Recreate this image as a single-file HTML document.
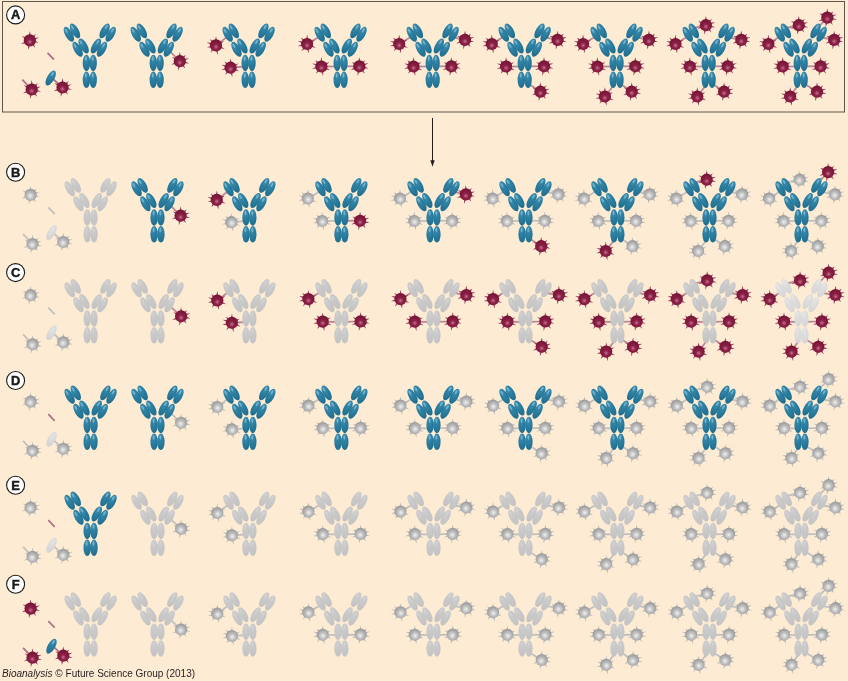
<!DOCTYPE html>
<html lang="en"><head><meta charset="utf-8"><title>Bioanalysis figure</title>
<style>html,body{margin:0;padding:0;background:#fdecd3;}body{width:848px;height:681px;overflow:hidden;font-family:"Liberation Sans",Arial,sans-serif;}svg{display:block}</style>
</head><body>
<svg width="848" height="681" viewBox="0 0 848 681">
<defs>
<radialGradient id="gb" cx="0.42" cy="0.22" r="0.75" fx="0.42" fy="0.2"><stop offset="0" stop-color="#3f8fb1"/><stop offset="0.5" stop-color="#2c7fa1"/><stop offset="1" stop-color="#1f6e8f"/></radialGradient>
<radialGradient id="gg" cx="0.42" cy="0.22" r="0.75"><stop offset="0" stop-color="#d0d0d0"/><stop offset="0.4" stop-color="#c9c9c9"/><stop offset="1" stop-color="#c3c3c3"/></radialGradient>
<radialGradient id="gl" cx="0.42" cy="0.3" r="0.75"><stop offset="0" stop-color="#e4e4e4"/><stop offset="1" stop-color="#d0d0d0"/></radialGradient>
<radialGradient id="rr" cx="0.5" cy="0.62" r="0.6"><stop offset="0" stop-color="#c0738c"/><stop offset="0.36" stop-color="#8c2046"/><stop offset="1" stop-color="#751433"/></radialGradient>
<radialGradient id="rg" cx="0.47" cy="0.58" r="0.62"><stop offset="0" stop-color="#f0f0f0"/><stop offset="0.45" stop-color="#bcbcbc"/><stop offset="1" stop-color="#929292"/></radialGradient>
<g id="eb"><ellipse rx="3.7" ry="8.3" fill="url(#gb)"/><ellipse cx="-0.5" cy="-4.4" rx="1.0" ry="2.4" fill="#9fd0e6" opacity="0.55"/></g>
<g id="eg"><ellipse rx="3.7" ry="8.3" fill="url(#gg)"/><ellipse cx="-0.5" cy="-4.6" rx="0.9" ry="2.0" fill="#e0e0e0" opacity="0.25"/></g>
<ellipse id="el" rx="3.7" ry="8.3" fill="url(#gl)"/>
<g id="AB"><use href="#eb" transform="translate(-20.93,34.3) rotate(-30)"/><use href="#eb" transform="translate(-14.83,30.9) rotate(-30)"/><use href="#eb" transform="translate(-12.13,49.3) rotate(-30)"/><use href="#eb" transform="translate(-6.17,46.0) rotate(-30)"/><use href="#eb" transform="translate(20.93,34.3) rotate(30)"/><use href="#eb" transform="translate(14.83,30.9) rotate(30)"/><use href="#eb" transform="translate(12.13,49.3) rotate(30)"/><use href="#eb" transform="translate(6.17,46.0) rotate(30)"/><use href="#eb" transform="translate(-3.4,63.0) rotate(0)"/><use href="#eb" transform="translate(3.4,63.0) rotate(0)"/><use href="#eb" transform="translate(-3.4,79.8) rotate(0)"/><use href="#eb" transform="translate(3.4,79.8) rotate(0)"/></g>
<g id="AG"><use href="#eg" transform="translate(-20.93,34.3) rotate(-30)"/><use href="#eg" transform="translate(-14.83,30.9) rotate(-30)"/><use href="#eg" transform="translate(-12.13,49.3) rotate(-30)"/><use href="#eg" transform="translate(-6.17,46.0) rotate(-30)"/><use href="#eg" transform="translate(20.93,34.3) rotate(30)"/><use href="#eg" transform="translate(14.83,30.9) rotate(30)"/><use href="#eg" transform="translate(12.13,49.3) rotate(30)"/><use href="#eg" transform="translate(6.17,46.0) rotate(30)"/><use href="#eg" transform="translate(-3.4,63.0) rotate(0)"/><use href="#eg" transform="translate(3.4,63.0) rotate(0)"/><use href="#eg" transform="translate(-3.4,79.8) rotate(0)"/><use href="#eg" transform="translate(3.4,79.8) rotate(0)"/></g>
<radialGradient id="gk" cx="0.42" cy="0.22" r="0.75"><stop offset="0" stop-color="#e6e6e6"/><stop offset="0.4" stop-color="#dddddd"/><stop offset="1" stop-color="#d6d6d6"/></radialGradient>
<g id="ek"><ellipse rx="3.7" ry="8.3" fill="url(#gk)"/></g>
<g id="AK"><use href="#ek" transform="translate(-20.93,34.3) rotate(-30)"/><use href="#ek" transform="translate(-14.83,30.9) rotate(-30)"/><use href="#ek" transform="translate(-12.13,49.3) rotate(-30)"/><use href="#ek" transform="translate(-6.17,46.0) rotate(-30)"/><use href="#ek" transform="translate(20.93,34.3) rotate(30)"/><use href="#ek" transform="translate(14.83,30.9) rotate(30)"/><use href="#ek" transform="translate(12.13,49.3) rotate(30)"/><use href="#ek" transform="translate(6.17,46.0) rotate(30)"/><use href="#ek" transform="translate(-3.4,63.0) rotate(0)"/><use href="#ek" transform="translate(3.4,63.0) rotate(0)"/><use href="#ek" transform="translate(-3.4,79.8) rotate(0)"/><use href="#ek" transform="translate(3.4,79.8) rotate(0)"/></g>
<g id="DR"><path d="M0.95,-5.20L0.12,-8.90L-0.12,-8.90L-0.95,-5.20ZM4.30,-3.08L5.92,-5.96L5.75,-6.13L2.93,-4.40ZM5.24,-0.70L8.88,-2.76L8.81,-2.99L4.65,-2.51ZM4.85,2.10L9.03,2.21L9.09,1.98L5.28,0.24ZM2.37,4.72L5.20,7.10L5.39,6.96L3.89,3.58ZM-1.84,4.96L-1.72,9.04L-1.48,9.08L0.03,5.29ZM-5.16,1.16L-8.42,3.45L-8.33,3.67L-4.42,2.91ZM-4.15,-3.28L-7.54,-4.14L-7.65,-3.93L-5.04,-1.60Z" fill="#a03c60"/><circle r="6.1" fill="url(#rr)"/></g>
<g id="DG"><path d="M0.95,-5.20L0.12,-8.90L-0.12,-8.90L-0.95,-5.20ZM4.30,-3.08L5.92,-5.96L5.75,-6.13L2.93,-4.40ZM5.24,-0.70L8.88,-2.76L8.81,-2.99L4.65,-2.51ZM4.85,2.10L9.03,2.21L9.09,1.98L5.28,0.24ZM2.37,4.72L5.20,7.10L5.39,6.96L3.89,3.58ZM-1.84,4.96L-1.72,9.04L-1.48,9.08L0.03,5.29ZM-5.16,1.16L-8.42,3.45L-8.33,3.67L-4.42,2.91ZM-4.15,-3.28L-7.54,-4.14L-7.65,-3.93L-5.04,-1.60Z" fill="#bcbcbc"/><circle r="6.1" fill="url(#rg)"/></g>
</defs>
<rect width="848" height="681" fill="#fdecd3"/>
<rect x="2.5" y="1.5" width="842" height="110.5" fill="none" stroke="#5e564d" stroke-width="1"/>
<line x1="432.5" y1="118" x2="432.5" y2="161" stroke="#231f20" stroke-width="1"/>
<polygon points="430.3,160.2 434.7,160.2 432.5,166.7" fill="#231f20"/>
<line x1="47.50" y1="52.90" x2="53.90" y2="59.50" stroke="#ae7486" stroke-width="1.8"/>
<line x1="22.30" y1="79.60" x2="31.70" y2="89.50" stroke="#ae7486" stroke-width="1.8"/>
<line x1="52.50" y1="78.50" x2="62.50" y2="87.50" stroke="#ae7486" stroke-width="1.8"/>
<use href="#eb" transform="translate(50.70,78.00) rotate(30)"/>
<use href="#DR" x="29.80" y="40.40"/>
<use href="#DR" x="31.70" y="89.50"/>
<use href="#DR" x="62.50" y="87.50"/>
<use href="#AB" x="89.80" y="0.00"/>
<line x1="179.80" y1="61.20" x2="167.70" y2="49.20" stroke="#ba8a98" stroke-width="1.8"/>
<use href="#AB" x="156.70" y="0.00"/>
<use href="#DR" x="179.80" y="61.20"/>
<line x1="216.00" y1="45.40" x2="227.60" y2="36.50" stroke="#ba8a98" stroke-width="1.8"/>
<line x1="230.60" y1="67.70" x2="245.20" y2="66.50" stroke="#ba8a98" stroke-width="1.8"/>
<use href="#AB" x="248.60" y="0.00"/>
<use href="#DR" transform="translate(216.00,45.40) scale(-1,1)"/>
<use href="#DR" transform="translate(230.60,67.70) scale(-1,1)"/>
<line x1="307.10" y1="44.00" x2="319.60" y2="36.50" stroke="#ba8a98" stroke-width="1.8"/>
<line x1="321.40" y1="66.50" x2="337.20" y2="66.50" stroke="#ba8a98" stroke-width="1.8"/>
<line x1="359.30" y1="66.30" x2="344.00" y2="66.30" stroke="#ba8a98" stroke-width="1.8"/>
<use href="#AB" x="340.60" y="0.00"/>
<use href="#DR" transform="translate(307.10,44.00) scale(-1,1)"/>
<use href="#DR" transform="translate(321.40,66.50) scale(-1,1)"/>
<use href="#DR" x="359.30" y="66.30"/>
<line x1="399.20" y1="44.00" x2="411.70" y2="36.50" stroke="#ba8a98" stroke-width="1.8"/>
<line x1="413.50" y1="66.50" x2="429.30" y2="66.50" stroke="#ba8a98" stroke-width="1.8"/>
<line x1="451.40" y1="66.30" x2="436.10" y2="66.30" stroke="#ba8a98" stroke-width="1.8"/>
<line x1="465.00" y1="39.90" x2="453.70" y2="37.50" stroke="#ba8a98" stroke-width="1.8"/>
<use href="#AB" x="432.70" y="0.00"/>
<use href="#DR" transform="translate(399.20,44.00) scale(-1,1)"/>
<use href="#DR" transform="translate(413.50,66.50) scale(-1,1)"/>
<use href="#DR" x="451.40" y="66.30"/>
<use href="#DR" x="465.00" y="39.90"/>
<line x1="491.80" y1="44.00" x2="503.70" y2="36.50" stroke="#ba8a98" stroke-width="1.8"/>
<line x1="506.10" y1="66.50" x2="521.30" y2="66.50" stroke="#ba8a98" stroke-width="1.8"/>
<line x1="544.00" y1="66.30" x2="528.10" y2="66.30" stroke="#ba8a98" stroke-width="1.8"/>
<line x1="557.60" y1="39.90" x2="545.70" y2="37.50" stroke="#ba8a98" stroke-width="1.8"/>
<line x1="540.40" y1="91.70" x2="528.10" y2="83.50" stroke="#ba8a98" stroke-width="1.8"/>
<use href="#AB" x="524.70" y="0.00"/>
<use href="#DR" transform="translate(491.80,44.00) scale(-1,1)"/>
<use href="#DR" transform="translate(506.10,66.50) scale(-1,1)"/>
<use href="#DR" x="544.00" y="66.30"/>
<use href="#DR" x="557.60" y="39.90"/>
<use href="#DR" x="540.40" y="91.70"/>
<line x1="583.10" y1="44.00" x2="595.60" y2="36.50" stroke="#ba8a98" stroke-width="1.8"/>
<line x1="597.40" y1="66.50" x2="613.20" y2="66.50" stroke="#ba8a98" stroke-width="1.8"/>
<line x1="635.30" y1="66.30" x2="620.00" y2="66.30" stroke="#ba8a98" stroke-width="1.8"/>
<line x1="648.90" y1="39.90" x2="637.60" y2="37.50" stroke="#ba8a98" stroke-width="1.8"/>
<line x1="631.70" y1="91.70" x2="620.00" y2="83.50" stroke="#ba8a98" stroke-width="1.8"/>
<line x1="604.90" y1="96.50" x2="613.20" y2="86.00" stroke="#ba8a98" stroke-width="1.8"/>
<use href="#AB" x="616.60" y="0.00"/>
<use href="#DR" transform="translate(583.10,44.00) scale(-1,1)"/>
<use href="#DR" transform="translate(597.40,66.50) scale(-1,1)"/>
<use href="#DR" x="635.30" y="66.30"/>
<use href="#DR" x="648.90" y="39.90"/>
<use href="#DR" x="631.70" y="91.70"/>
<use href="#DR" transform="translate(604.90,96.50) scale(-1,1)"/>
<line x1="675.50" y1="44.00" x2="687.70" y2="36.50" stroke="#ba8a98" stroke-width="1.8"/>
<line x1="689.80" y1="66.50" x2="705.30" y2="66.50" stroke="#ba8a98" stroke-width="1.8"/>
<line x1="727.70" y1="66.30" x2="712.10" y2="66.30" stroke="#ba8a98" stroke-width="1.8"/>
<line x1="741.30" y1="39.90" x2="729.70" y2="37.50" stroke="#ba8a98" stroke-width="1.8"/>
<line x1="724.10" y1="91.70" x2="712.10" y2="83.50" stroke="#ba8a98" stroke-width="1.8"/>
<line x1="697.30" y1="96.50" x2="705.30" y2="86.00" stroke="#ba8a98" stroke-width="1.8"/>
<line x1="705.90" y1="25.20" x2="693.70" y2="28.00" stroke="#ba8a98" stroke-width="1.8"/>
<use href="#AB" x="708.70" y="0.00"/>
<use href="#DR" transform="translate(675.50,44.00) scale(-1,1)"/>
<use href="#DR" transform="translate(689.80,66.50) scale(-1,1)"/>
<use href="#DR" x="727.70" y="66.30"/>
<use href="#DR" x="741.30" y="39.90"/>
<use href="#DR" x="724.10" y="91.70"/>
<use href="#DR" transform="translate(697.30,96.50) scale(-1,1)"/>
<use href="#DR" x="705.90" y="25.20"/>
<line x1="768.40" y1="44.00" x2="779.70" y2="36.50" stroke="#ba8a98" stroke-width="1.8"/>
<line x1="782.70" y1="66.50" x2="797.30" y2="66.50" stroke="#ba8a98" stroke-width="1.8"/>
<line x1="820.60" y1="66.30" x2="804.10" y2="66.30" stroke="#ba8a98" stroke-width="1.8"/>
<line x1="834.20" y1="39.90" x2="821.70" y2="37.50" stroke="#ba8a98" stroke-width="1.8"/>
<line x1="817.00" y1="91.70" x2="804.10" y2="83.50" stroke="#ba8a98" stroke-width="1.8"/>
<line x1="790.20" y1="96.50" x2="797.30" y2="86.00" stroke="#ba8a98" stroke-width="1.8"/>
<line x1="798.80" y1="25.20" x2="785.70" y2="28.00" stroke="#ba8a98" stroke-width="1.8"/>
<line x1="827.30" y1="17.60" x2="816.70" y2="29.00" stroke="#ba8a98" stroke-width="1.8"/>
<use href="#AB" x="800.70" y="0.00"/>
<use href="#DR" transform="translate(768.40,44.00) scale(-1,1)"/>
<use href="#DR" transform="translate(782.70,66.50) scale(-1,1)"/>
<use href="#DR" x="820.60" y="66.30"/>
<use href="#DR" x="834.20" y="39.90"/>
<use href="#DR" x="817.00" y="91.70"/>
<use href="#DR" transform="translate(790.20,96.50) scale(-1,1)"/>
<use href="#DR" x="798.80" y="25.20"/>
<use href="#DR" x="827.30" y="17.60"/>
<circle cx="15.6" cy="14.9" r="9" fill="#fff" stroke="#1a1a1a" stroke-width="1.1"/>
<text x="15.6" y="19.1" text-anchor="middle" font-family="'Liberation Sans', Arial, sans-serif" font-weight="bold" font-size="12.9" fill="#1a1a1a" stroke="#1a1a1a" stroke-width="0.45">A</text>
<line x1="48.30" y1="207.40" x2="54.70" y2="214.00" stroke="#c0c0c0" stroke-width="1.8"/>
<line x1="23.10" y1="234.10" x2="32.50" y2="244.00" stroke="#c0c0c0" stroke-width="1.8"/>
<line x1="53.30" y1="233.00" x2="63.30" y2="242.00" stroke="#c0c0c0" stroke-width="1.8"/>
<use href="#el" transform="translate(51.50,232.50) rotate(30)"/>
<use href="#DG" x="30.60" y="194.90"/>
<use href="#DG" x="32.50" y="244.00"/>
<use href="#DG" x="63.30" y="242.00"/>
<use href="#AG" x="90.60" y="154.50"/>
<line x1="180.60" y1="215.70" x2="168.50" y2="203.70" stroke="#ba8a98" stroke-width="1.8"/>
<use href="#AB" x="157.50" y="154.50"/>
<use href="#DR" x="180.60" y="215.70"/>
<line x1="216.80" y1="199.90" x2="228.40" y2="191.00" stroke="#ba8a98" stroke-width="1.8"/>
<line x1="231.40" y1="222.20" x2="246.00" y2="221.00" stroke="#c0c0c0" stroke-width="1.8"/>
<use href="#AB" x="249.40" y="154.50"/>
<use href="#DR" transform="translate(216.80,199.90) scale(-1,1)"/>
<use href="#DG" transform="translate(231.40,222.20) scale(-1,1)"/>
<line x1="307.90" y1="198.50" x2="320.40" y2="191.00" stroke="#c0c0c0" stroke-width="1.8"/>
<line x1="322.20" y1="221.00" x2="338.00" y2="221.00" stroke="#c0c0c0" stroke-width="1.8"/>
<line x1="360.10" y1="220.80" x2="344.80" y2="220.80" stroke="#ba8a98" stroke-width="1.8"/>
<use href="#AB" x="341.40" y="154.50"/>
<use href="#DG" transform="translate(307.90,198.50) scale(-1,1)"/>
<use href="#DG" transform="translate(322.20,221.00) scale(-1,1)"/>
<use href="#DR" x="360.10" y="220.80"/>
<line x1="400.00" y1="198.50" x2="412.50" y2="191.00" stroke="#c0c0c0" stroke-width="1.8"/>
<line x1="414.30" y1="221.00" x2="430.10" y2="221.00" stroke="#c0c0c0" stroke-width="1.8"/>
<line x1="452.20" y1="220.80" x2="436.90" y2="220.80" stroke="#c0c0c0" stroke-width="1.8"/>
<line x1="465.80" y1="194.40" x2="454.50" y2="192.00" stroke="#ba8a98" stroke-width="1.8"/>
<use href="#AB" x="433.50" y="154.50"/>
<use href="#DG" transform="translate(400.00,198.50) scale(-1,1)"/>
<use href="#DG" transform="translate(414.30,221.00) scale(-1,1)"/>
<use href="#DG" x="452.20" y="220.80"/>
<use href="#DR" x="465.80" y="194.40"/>
<line x1="492.60" y1="198.50" x2="504.50" y2="191.00" stroke="#c0c0c0" stroke-width="1.8"/>
<line x1="506.90" y1="221.00" x2="522.10" y2="221.00" stroke="#c0c0c0" stroke-width="1.8"/>
<line x1="544.80" y1="220.80" x2="528.90" y2="220.80" stroke="#c0c0c0" stroke-width="1.8"/>
<line x1="558.40" y1="194.40" x2="546.50" y2="192.00" stroke="#c0c0c0" stroke-width="1.8"/>
<line x1="541.20" y1="246.20" x2="528.90" y2="238.00" stroke="#ba8a98" stroke-width="1.8"/>
<use href="#AB" x="525.50" y="154.50"/>
<use href="#DG" transform="translate(492.60,198.50) scale(-1,1)"/>
<use href="#DG" transform="translate(506.90,221.00) scale(-1,1)"/>
<use href="#DG" x="544.80" y="220.80"/>
<use href="#DG" x="558.40" y="194.40"/>
<use href="#DR" x="541.20" y="246.20"/>
<line x1="583.90" y1="198.50" x2="596.40" y2="191.00" stroke="#c0c0c0" stroke-width="1.8"/>
<line x1="598.20" y1="221.00" x2="614.00" y2="221.00" stroke="#c0c0c0" stroke-width="1.8"/>
<line x1="636.10" y1="220.80" x2="620.80" y2="220.80" stroke="#c0c0c0" stroke-width="1.8"/>
<line x1="649.70" y1="194.40" x2="638.40" y2="192.00" stroke="#c0c0c0" stroke-width="1.8"/>
<line x1="632.50" y1="246.20" x2="620.80" y2="238.00" stroke="#c0c0c0" stroke-width="1.8"/>
<line x1="605.70" y1="251.00" x2="614.00" y2="240.50" stroke="#ba8a98" stroke-width="1.8"/>
<use href="#AB" x="617.40" y="154.50"/>
<use href="#DG" transform="translate(583.90,198.50) scale(-1,1)"/>
<use href="#DG" transform="translate(598.20,221.00) scale(-1,1)"/>
<use href="#DG" x="636.10" y="220.80"/>
<use href="#DG" x="649.70" y="194.40"/>
<use href="#DG" x="632.50" y="246.20"/>
<use href="#DR" transform="translate(605.70,251.00) scale(-1,1)"/>
<line x1="676.30" y1="198.50" x2="688.50" y2="191.00" stroke="#c0c0c0" stroke-width="1.8"/>
<line x1="690.60" y1="221.00" x2="706.10" y2="221.00" stroke="#c0c0c0" stroke-width="1.8"/>
<line x1="728.50" y1="220.80" x2="712.90" y2="220.80" stroke="#c0c0c0" stroke-width="1.8"/>
<line x1="742.10" y1="194.40" x2="730.50" y2="192.00" stroke="#c0c0c0" stroke-width="1.8"/>
<line x1="724.90" y1="246.20" x2="712.90" y2="238.00" stroke="#c0c0c0" stroke-width="1.8"/>
<line x1="698.10" y1="251.00" x2="706.10" y2="240.50" stroke="#c0c0c0" stroke-width="1.8"/>
<line x1="706.70" y1="179.70" x2="694.50" y2="182.50" stroke="#ba8a98" stroke-width="1.8"/>
<use href="#AB" x="709.50" y="154.50"/>
<use href="#DG" transform="translate(676.30,198.50) scale(-1,1)"/>
<use href="#DG" transform="translate(690.60,221.00) scale(-1,1)"/>
<use href="#DG" x="728.50" y="220.80"/>
<use href="#DG" x="742.10" y="194.40"/>
<use href="#DG" x="724.90" y="246.20"/>
<use href="#DG" transform="translate(698.10,251.00) scale(-1,1)"/>
<use href="#DR" x="706.70" y="179.70"/>
<line x1="769.20" y1="198.50" x2="780.50" y2="191.00" stroke="#c0c0c0" stroke-width="1.8"/>
<line x1="783.50" y1="221.00" x2="798.10" y2="221.00" stroke="#c0c0c0" stroke-width="1.8"/>
<line x1="821.40" y1="220.80" x2="804.90" y2="220.80" stroke="#c0c0c0" stroke-width="1.8"/>
<line x1="835.00" y1="194.40" x2="822.50" y2="192.00" stroke="#c0c0c0" stroke-width="1.8"/>
<line x1="817.80" y1="246.20" x2="804.90" y2="238.00" stroke="#c0c0c0" stroke-width="1.8"/>
<line x1="791.00" y1="251.00" x2="798.10" y2="240.50" stroke="#c0c0c0" stroke-width="1.8"/>
<line x1="799.60" y1="179.70" x2="786.50" y2="182.50" stroke="#c0c0c0" stroke-width="1.8"/>
<line x1="828.10" y1="172.10" x2="817.50" y2="183.50" stroke="#ba8a98" stroke-width="1.8"/>
<use href="#AB" x="801.50" y="154.50"/>
<use href="#DG" transform="translate(769.20,198.50) scale(-1,1)"/>
<use href="#DG" transform="translate(783.50,221.00) scale(-1,1)"/>
<use href="#DG" x="821.40" y="220.80"/>
<use href="#DG" x="835.00" y="194.40"/>
<use href="#DG" x="817.80" y="246.20"/>
<use href="#DG" transform="translate(791.00,251.00) scale(-1,1)"/>
<use href="#DG" x="799.60" y="179.70"/>
<use href="#DR" x="828.10" y="172.10"/>
<circle cx="15.6" cy="172.3" r="9" fill="#fff" stroke="#1a1a1a" stroke-width="1.1"/>
<text x="15.6" y="176.5" text-anchor="middle" font-family="'Liberation Sans', Arial, sans-serif" font-weight="bold" font-size="12.9" fill="#1a1a1a" stroke="#1a1a1a" stroke-width="0.45">B</text>
<line x1="48.30" y1="307.70" x2="54.70" y2="314.30" stroke="#c0c0c0" stroke-width="1.8"/>
<line x1="23.10" y1="334.40" x2="32.50" y2="344.30" stroke="#c0c0c0" stroke-width="1.8"/>
<line x1="53.30" y1="333.30" x2="63.30" y2="342.30" stroke="#c0c0c0" stroke-width="1.8"/>
<use href="#el" transform="translate(51.50,332.80) rotate(30)"/>
<use href="#DG" x="30.60" y="295.20"/>
<use href="#DG" x="32.50" y="344.30"/>
<use href="#DG" x="63.30" y="342.30"/>
<use href="#AG" x="90.60" y="255.50"/>
<line x1="181.10" y1="316.30" x2="168.50" y2="304.70" stroke="#ba8a98" stroke-width="1.8"/>
<use href="#AG" x="157.50" y="255.50"/>
<use href="#DR" x="181.10" y="316.30"/>
<line x1="217.30" y1="300.50" x2="228.40" y2="292.00" stroke="#ba8a98" stroke-width="1.8"/>
<line x1="231.90" y1="322.80" x2="246.00" y2="322.00" stroke="#ba8a98" stroke-width="1.8"/>
<use href="#AG" x="249.40" y="255.50"/>
<use href="#DR" transform="translate(217.30,300.50) scale(-1,1)"/>
<use href="#DR" transform="translate(231.90,322.80) scale(-1,1)"/>
<line x1="308.40" y1="299.10" x2="320.40" y2="292.00" stroke="#ba8a98" stroke-width="1.8"/>
<line x1="322.70" y1="321.60" x2="338.00" y2="322.00" stroke="#ba8a98" stroke-width="1.8"/>
<line x1="360.60" y1="321.40" x2="344.80" y2="321.80" stroke="#ba8a98" stroke-width="1.8"/>
<use href="#AG" x="341.40" y="255.50"/>
<use href="#DR" transform="translate(308.40,299.10) scale(-1,1)"/>
<use href="#DR" transform="translate(322.70,321.60) scale(-1,1)"/>
<use href="#DR" x="360.60" y="321.40"/>
<line x1="400.50" y1="299.10" x2="412.50" y2="292.00" stroke="#ba8a98" stroke-width="1.8"/>
<line x1="414.80" y1="321.60" x2="430.10" y2="322.00" stroke="#ba8a98" stroke-width="1.8"/>
<line x1="452.70" y1="321.40" x2="436.90" y2="321.80" stroke="#ba8a98" stroke-width="1.8"/>
<line x1="466.30" y1="295.00" x2="454.50" y2="293.00" stroke="#ba8a98" stroke-width="1.8"/>
<use href="#AG" x="433.50" y="255.50"/>
<use href="#DR" transform="translate(400.50,299.10) scale(-1,1)"/>
<use href="#DR" transform="translate(414.80,321.60) scale(-1,1)"/>
<use href="#DR" x="452.70" y="321.40"/>
<use href="#DR" x="466.30" y="295.00"/>
<line x1="493.10" y1="299.10" x2="504.50" y2="292.00" stroke="#ba8a98" stroke-width="1.8"/>
<line x1="507.40" y1="321.60" x2="522.10" y2="322.00" stroke="#ba8a98" stroke-width="1.8"/>
<line x1="545.30" y1="321.40" x2="528.90" y2="321.80" stroke="#ba8a98" stroke-width="1.8"/>
<line x1="558.90" y1="295.00" x2="546.50" y2="293.00" stroke="#ba8a98" stroke-width="1.8"/>
<line x1="541.70" y1="346.80" x2="528.90" y2="339.00" stroke="#ba8a98" stroke-width="1.8"/>
<use href="#AG" x="525.50" y="255.50"/>
<use href="#DR" transform="translate(493.10,299.10) scale(-1,1)"/>
<use href="#DR" transform="translate(507.40,321.60) scale(-1,1)"/>
<use href="#DR" x="545.30" y="321.40"/>
<use href="#DR" x="558.90" y="295.00"/>
<use href="#DR" x="541.70" y="346.80"/>
<line x1="584.40" y1="299.10" x2="596.40" y2="292.00" stroke="#ba8a98" stroke-width="1.8"/>
<line x1="598.70" y1="321.60" x2="614.00" y2="322.00" stroke="#ba8a98" stroke-width="1.8"/>
<line x1="636.60" y1="321.40" x2="620.80" y2="321.80" stroke="#ba8a98" stroke-width="1.8"/>
<line x1="650.20" y1="295.00" x2="638.40" y2="293.00" stroke="#ba8a98" stroke-width="1.8"/>
<line x1="633.00" y1="346.80" x2="620.80" y2="339.00" stroke="#ba8a98" stroke-width="1.8"/>
<line x1="606.20" y1="351.60" x2="614.00" y2="341.50" stroke="#ba8a98" stroke-width="1.8"/>
<use href="#AG" x="617.40" y="255.50"/>
<use href="#DR" transform="translate(584.40,299.10) scale(-1,1)"/>
<use href="#DR" transform="translate(598.70,321.60) scale(-1,1)"/>
<use href="#DR" x="636.60" y="321.40"/>
<use href="#DR" x="650.20" y="295.00"/>
<use href="#DR" x="633.00" y="346.80"/>
<use href="#DR" transform="translate(606.20,351.60) scale(-1,1)"/>
<line x1="676.80" y1="299.10" x2="688.50" y2="292.00" stroke="#ba8a98" stroke-width="1.8"/>
<line x1="691.10" y1="321.60" x2="706.10" y2="322.00" stroke="#ba8a98" stroke-width="1.8"/>
<line x1="729.00" y1="321.40" x2="712.90" y2="321.80" stroke="#ba8a98" stroke-width="1.8"/>
<line x1="742.60" y1="295.00" x2="730.50" y2="293.00" stroke="#ba8a98" stroke-width="1.8"/>
<line x1="725.40" y1="346.80" x2="712.90" y2="339.00" stroke="#ba8a98" stroke-width="1.8"/>
<line x1="698.60" y1="351.60" x2="706.10" y2="341.50" stroke="#ba8a98" stroke-width="1.8"/>
<line x1="707.20" y1="280.30" x2="694.50" y2="283.50" stroke="#ba8a98" stroke-width="1.8"/>
<use href="#AG" x="709.50" y="255.50"/>
<use href="#DR" transform="translate(676.80,299.10) scale(-1,1)"/>
<use href="#DR" transform="translate(691.10,321.60) scale(-1,1)"/>
<use href="#DR" x="729.00" y="321.40"/>
<use href="#DR" x="742.60" y="295.00"/>
<use href="#DR" x="725.40" y="346.80"/>
<use href="#DR" transform="translate(698.60,351.60) scale(-1,1)"/>
<use href="#DR" x="707.20" y="280.30"/>
<line x1="769.70" y1="299.10" x2="780.50" y2="292.00" stroke="#ba8a98" stroke-width="1.8"/>
<line x1="784.00" y1="321.60" x2="798.10" y2="322.00" stroke="#ba8a98" stroke-width="1.8"/>
<line x1="821.90" y1="321.40" x2="804.90" y2="321.80" stroke="#ba8a98" stroke-width="1.8"/>
<line x1="835.50" y1="295.00" x2="822.50" y2="293.00" stroke="#ba8a98" stroke-width="1.8"/>
<line x1="818.30" y1="346.80" x2="804.90" y2="339.00" stroke="#ba8a98" stroke-width="1.8"/>
<line x1="791.50" y1="351.60" x2="798.10" y2="341.50" stroke="#ba8a98" stroke-width="1.8"/>
<line x1="800.10" y1="280.30" x2="786.50" y2="283.50" stroke="#ba8a98" stroke-width="1.8"/>
<line x1="828.60" y1="272.70" x2="817.50" y2="284.50" stroke="#ba8a98" stroke-width="1.8"/>
<use href="#AK" x="801.50" y="255.50"/>
<use href="#DR" transform="translate(769.70,299.10) scale(-1,1)"/>
<use href="#DR" transform="translate(784.00,321.60) scale(-1,1)"/>
<use href="#DR" x="821.90" y="321.40"/>
<use href="#DR" x="835.50" y="295.00"/>
<use href="#DR" x="818.30" y="346.80"/>
<use href="#DR" transform="translate(791.50,351.60) scale(-1,1)"/>
<use href="#DR" x="800.10" y="280.30"/>
<use href="#DR" x="828.60" y="272.70"/>
<circle cx="15.6" cy="272.6" r="9" fill="#fff" stroke="#1a1a1a" stroke-width="1.1"/>
<text x="15.6" y="276.8" text-anchor="middle" font-family="'Liberation Sans', Arial, sans-serif" font-weight="bold" font-size="12.9" fill="#1a1a1a" stroke="#1a1a1a" stroke-width="0.45">C</text>
<line x1="48.30" y1="414.20" x2="54.70" y2="420.80" stroke="#ae7486" stroke-width="1.8"/>
<line x1="23.10" y1="440.90" x2="32.50" y2="450.80" stroke="#c0c0c0" stroke-width="1.8"/>
<line x1="53.30" y1="439.80" x2="63.30" y2="448.80" stroke="#c0c0c0" stroke-width="1.8"/>
<use href="#el" transform="translate(51.50,439.30) rotate(30)"/>
<use href="#DG" x="30.60" y="401.70"/>
<use href="#DG" x="32.50" y="450.80"/>
<use href="#DG" x="63.30" y="448.80"/>
<use href="#AB" x="90.60" y="362.00"/>
<line x1="181.10" y1="422.80" x2="168.50" y2="411.20" stroke="#c0c0c0" stroke-width="1.8"/>
<use href="#AB" x="157.50" y="362.00"/>
<use href="#DG" x="181.10" y="422.80"/>
<line x1="217.30" y1="407.00" x2="228.40" y2="398.50" stroke="#c0c0c0" stroke-width="1.8"/>
<line x1="231.90" y1="429.30" x2="246.00" y2="428.50" stroke="#c0c0c0" stroke-width="1.8"/>
<use href="#AB" x="249.40" y="362.00"/>
<use href="#DG" transform="translate(217.30,407.00) scale(-1,1)"/>
<use href="#DG" transform="translate(231.90,429.30) scale(-1,1)"/>
<line x1="308.40" y1="405.60" x2="320.40" y2="398.50" stroke="#c0c0c0" stroke-width="1.8"/>
<line x1="322.70" y1="428.10" x2="338.00" y2="428.50" stroke="#c0c0c0" stroke-width="1.8"/>
<line x1="360.60" y1="427.90" x2="344.80" y2="428.30" stroke="#c0c0c0" stroke-width="1.8"/>
<use href="#AB" x="341.40" y="362.00"/>
<use href="#DG" transform="translate(308.40,405.60) scale(-1,1)"/>
<use href="#DG" transform="translate(322.70,428.10) scale(-1,1)"/>
<use href="#DG" x="360.60" y="427.90"/>
<line x1="400.50" y1="405.60" x2="412.50" y2="398.50" stroke="#c0c0c0" stroke-width="1.8"/>
<line x1="414.80" y1="428.10" x2="430.10" y2="428.50" stroke="#c0c0c0" stroke-width="1.8"/>
<line x1="452.70" y1="427.90" x2="436.90" y2="428.30" stroke="#c0c0c0" stroke-width="1.8"/>
<line x1="466.30" y1="401.50" x2="454.50" y2="399.50" stroke="#c0c0c0" stroke-width="1.8"/>
<use href="#AB" x="433.50" y="362.00"/>
<use href="#DG" transform="translate(400.50,405.60) scale(-1,1)"/>
<use href="#DG" transform="translate(414.80,428.10) scale(-1,1)"/>
<use href="#DG" x="452.70" y="427.90"/>
<use href="#DG" x="466.30" y="401.50"/>
<line x1="493.10" y1="405.60" x2="504.50" y2="398.50" stroke="#c0c0c0" stroke-width="1.8"/>
<line x1="507.40" y1="428.10" x2="522.10" y2="428.50" stroke="#c0c0c0" stroke-width="1.8"/>
<line x1="545.30" y1="427.90" x2="528.90" y2="428.30" stroke="#c0c0c0" stroke-width="1.8"/>
<line x1="558.90" y1="401.50" x2="546.50" y2="399.50" stroke="#c0c0c0" stroke-width="1.8"/>
<line x1="541.70" y1="453.30" x2="528.90" y2="445.50" stroke="#c0c0c0" stroke-width="1.8"/>
<use href="#AB" x="525.50" y="362.00"/>
<use href="#DG" transform="translate(493.10,405.60) scale(-1,1)"/>
<use href="#DG" transform="translate(507.40,428.10) scale(-1,1)"/>
<use href="#DG" x="545.30" y="427.90"/>
<use href="#DG" x="558.90" y="401.50"/>
<use href="#DG" x="541.70" y="453.30"/>
<line x1="584.40" y1="405.60" x2="596.40" y2="398.50" stroke="#c0c0c0" stroke-width="1.8"/>
<line x1="598.70" y1="428.10" x2="614.00" y2="428.50" stroke="#c0c0c0" stroke-width="1.8"/>
<line x1="636.60" y1="427.90" x2="620.80" y2="428.30" stroke="#c0c0c0" stroke-width="1.8"/>
<line x1="650.20" y1="401.50" x2="638.40" y2="399.50" stroke="#c0c0c0" stroke-width="1.8"/>
<line x1="633.00" y1="453.30" x2="620.80" y2="445.50" stroke="#c0c0c0" stroke-width="1.8"/>
<line x1="606.20" y1="458.10" x2="614.00" y2="448.00" stroke="#c0c0c0" stroke-width="1.8"/>
<use href="#AB" x="617.40" y="362.00"/>
<use href="#DG" transform="translate(584.40,405.60) scale(-1,1)"/>
<use href="#DG" transform="translate(598.70,428.10) scale(-1,1)"/>
<use href="#DG" x="636.60" y="427.90"/>
<use href="#DG" x="650.20" y="401.50"/>
<use href="#DG" x="633.00" y="453.30"/>
<use href="#DG" transform="translate(606.20,458.10) scale(-1,1)"/>
<line x1="676.80" y1="405.60" x2="688.50" y2="398.50" stroke="#c0c0c0" stroke-width="1.8"/>
<line x1="691.10" y1="428.10" x2="706.10" y2="428.50" stroke="#c0c0c0" stroke-width="1.8"/>
<line x1="729.00" y1="427.90" x2="712.90" y2="428.30" stroke="#c0c0c0" stroke-width="1.8"/>
<line x1="742.60" y1="401.50" x2="730.50" y2="399.50" stroke="#c0c0c0" stroke-width="1.8"/>
<line x1="725.40" y1="453.30" x2="712.90" y2="445.50" stroke="#c0c0c0" stroke-width="1.8"/>
<line x1="698.60" y1="458.10" x2="706.10" y2="448.00" stroke="#c0c0c0" stroke-width="1.8"/>
<line x1="707.20" y1="386.80" x2="694.50" y2="390.00" stroke="#c0c0c0" stroke-width="1.8"/>
<use href="#AB" x="709.50" y="362.00"/>
<use href="#DG" transform="translate(676.80,405.60) scale(-1,1)"/>
<use href="#DG" transform="translate(691.10,428.10) scale(-1,1)"/>
<use href="#DG" x="729.00" y="427.90"/>
<use href="#DG" x="742.60" y="401.50"/>
<use href="#DG" x="725.40" y="453.30"/>
<use href="#DG" transform="translate(698.60,458.10) scale(-1,1)"/>
<use href="#DG" x="707.20" y="386.80"/>
<line x1="769.70" y1="405.60" x2="780.50" y2="398.50" stroke="#c0c0c0" stroke-width="1.8"/>
<line x1="784.00" y1="428.10" x2="798.10" y2="428.50" stroke="#c0c0c0" stroke-width="1.8"/>
<line x1="821.90" y1="427.90" x2="804.90" y2="428.30" stroke="#c0c0c0" stroke-width="1.8"/>
<line x1="835.50" y1="401.50" x2="822.50" y2="399.50" stroke="#c0c0c0" stroke-width="1.8"/>
<line x1="818.30" y1="453.30" x2="804.90" y2="445.50" stroke="#c0c0c0" stroke-width="1.8"/>
<line x1="791.50" y1="458.10" x2="798.10" y2="448.00" stroke="#c0c0c0" stroke-width="1.8"/>
<line x1="800.10" y1="386.80" x2="786.50" y2="390.00" stroke="#c0c0c0" stroke-width="1.8"/>
<line x1="828.60" y1="379.20" x2="817.50" y2="391.00" stroke="#c0c0c0" stroke-width="1.8"/>
<use href="#AB" x="801.50" y="362.00"/>
<use href="#DG" transform="translate(769.70,405.60) scale(-1,1)"/>
<use href="#DG" transform="translate(784.00,428.10) scale(-1,1)"/>
<use href="#DG" x="821.90" y="427.90"/>
<use href="#DG" x="835.50" y="401.50"/>
<use href="#DG" x="818.30" y="453.30"/>
<use href="#DG" transform="translate(791.50,458.10) scale(-1,1)"/>
<use href="#DG" x="800.10" y="386.80"/>
<use href="#DG" x="828.60" y="379.20"/>
<circle cx="15.6" cy="380.5" r="9" fill="#fff" stroke="#1a1a1a" stroke-width="1.1"/>
<text x="15.6" y="384.7" text-anchor="middle" font-family="'Liberation Sans', Arial, sans-serif" font-weight="bold" font-size="12.9" fill="#1a1a1a" stroke="#1a1a1a" stroke-width="0.45">D</text>
<line x1="48.30" y1="520.20" x2="54.70" y2="526.80" stroke="#ae7486" stroke-width="1.8"/>
<line x1="23.10" y1="546.90" x2="32.50" y2="556.80" stroke="#c0c0c0" stroke-width="1.8"/>
<line x1="53.30" y1="545.80" x2="63.30" y2="554.80" stroke="#c0c0c0" stroke-width="1.8"/>
<use href="#el" transform="translate(51.50,545.30) rotate(30)"/>
<use href="#DG" x="30.60" y="507.70"/>
<use href="#DG" x="32.50" y="556.80"/>
<use href="#DG" x="63.30" y="554.80"/>
<use href="#AB" x="90.60" y="468.00"/>
<line x1="181.10" y1="528.80" x2="168.50" y2="517.20" stroke="#c0c0c0" stroke-width="1.8"/>
<use href="#AG" x="157.50" y="468.00"/>
<use href="#DG" x="181.10" y="528.80"/>
<line x1="217.30" y1="513.00" x2="228.40" y2="504.50" stroke="#c0c0c0" stroke-width="1.8"/>
<line x1="231.90" y1="535.30" x2="246.00" y2="534.50" stroke="#c0c0c0" stroke-width="1.8"/>
<use href="#AG" x="249.40" y="468.00"/>
<use href="#DG" transform="translate(217.30,513.00) scale(-1,1)"/>
<use href="#DG" transform="translate(231.90,535.30) scale(-1,1)"/>
<line x1="308.40" y1="511.60" x2="320.40" y2="504.50" stroke="#c0c0c0" stroke-width="1.8"/>
<line x1="322.70" y1="534.10" x2="338.00" y2="534.50" stroke="#c0c0c0" stroke-width="1.8"/>
<line x1="360.60" y1="533.90" x2="344.80" y2="534.30" stroke="#c0c0c0" stroke-width="1.8"/>
<use href="#AG" x="341.40" y="468.00"/>
<use href="#DG" transform="translate(308.40,511.60) scale(-1,1)"/>
<use href="#DG" transform="translate(322.70,534.10) scale(-1,1)"/>
<use href="#DG" x="360.60" y="533.90"/>
<line x1="400.50" y1="511.60" x2="412.50" y2="504.50" stroke="#c0c0c0" stroke-width="1.8"/>
<line x1="414.80" y1="534.10" x2="430.10" y2="534.50" stroke="#c0c0c0" stroke-width="1.8"/>
<line x1="452.70" y1="533.90" x2="436.90" y2="534.30" stroke="#c0c0c0" stroke-width="1.8"/>
<line x1="466.30" y1="507.50" x2="454.50" y2="505.50" stroke="#c0c0c0" stroke-width="1.8"/>
<use href="#AG" x="433.50" y="468.00"/>
<use href="#DG" transform="translate(400.50,511.60) scale(-1,1)"/>
<use href="#DG" transform="translate(414.80,534.10) scale(-1,1)"/>
<use href="#DG" x="452.70" y="533.90"/>
<use href="#DG" x="466.30" y="507.50"/>
<line x1="493.10" y1="511.60" x2="504.50" y2="504.50" stroke="#c0c0c0" stroke-width="1.8"/>
<line x1="507.40" y1="534.10" x2="522.10" y2="534.50" stroke="#c0c0c0" stroke-width="1.8"/>
<line x1="545.30" y1="533.90" x2="528.90" y2="534.30" stroke="#c0c0c0" stroke-width="1.8"/>
<line x1="558.90" y1="507.50" x2="546.50" y2="505.50" stroke="#c0c0c0" stroke-width="1.8"/>
<line x1="541.70" y1="559.30" x2="528.90" y2="551.50" stroke="#c0c0c0" stroke-width="1.8"/>
<use href="#AG" x="525.50" y="468.00"/>
<use href="#DG" transform="translate(493.10,511.60) scale(-1,1)"/>
<use href="#DG" transform="translate(507.40,534.10) scale(-1,1)"/>
<use href="#DG" x="545.30" y="533.90"/>
<use href="#DG" x="558.90" y="507.50"/>
<use href="#DG" x="541.70" y="559.30"/>
<line x1="584.40" y1="511.60" x2="596.40" y2="504.50" stroke="#c0c0c0" stroke-width="1.8"/>
<line x1="598.70" y1="534.10" x2="614.00" y2="534.50" stroke="#c0c0c0" stroke-width="1.8"/>
<line x1="636.60" y1="533.90" x2="620.80" y2="534.30" stroke="#c0c0c0" stroke-width="1.8"/>
<line x1="650.20" y1="507.50" x2="638.40" y2="505.50" stroke="#c0c0c0" stroke-width="1.8"/>
<line x1="633.00" y1="559.30" x2="620.80" y2="551.50" stroke="#c0c0c0" stroke-width="1.8"/>
<line x1="606.20" y1="564.10" x2="614.00" y2="554.00" stroke="#c0c0c0" stroke-width="1.8"/>
<use href="#AG" x="617.40" y="468.00"/>
<use href="#DG" transform="translate(584.40,511.60) scale(-1,1)"/>
<use href="#DG" transform="translate(598.70,534.10) scale(-1,1)"/>
<use href="#DG" x="636.60" y="533.90"/>
<use href="#DG" x="650.20" y="507.50"/>
<use href="#DG" x="633.00" y="559.30"/>
<use href="#DG" transform="translate(606.20,564.10) scale(-1,1)"/>
<line x1="676.80" y1="511.60" x2="688.50" y2="504.50" stroke="#c0c0c0" stroke-width="1.8"/>
<line x1="691.10" y1="534.10" x2="706.10" y2="534.50" stroke="#c0c0c0" stroke-width="1.8"/>
<line x1="729.00" y1="533.90" x2="712.90" y2="534.30" stroke="#c0c0c0" stroke-width="1.8"/>
<line x1="742.60" y1="507.50" x2="730.50" y2="505.50" stroke="#c0c0c0" stroke-width="1.8"/>
<line x1="725.40" y1="559.30" x2="712.90" y2="551.50" stroke="#c0c0c0" stroke-width="1.8"/>
<line x1="698.60" y1="564.10" x2="706.10" y2="554.00" stroke="#c0c0c0" stroke-width="1.8"/>
<line x1="707.20" y1="492.80" x2="694.50" y2="496.00" stroke="#c0c0c0" stroke-width="1.8"/>
<use href="#AG" x="709.50" y="468.00"/>
<use href="#DG" transform="translate(676.80,511.60) scale(-1,1)"/>
<use href="#DG" transform="translate(691.10,534.10) scale(-1,1)"/>
<use href="#DG" x="729.00" y="533.90"/>
<use href="#DG" x="742.60" y="507.50"/>
<use href="#DG" x="725.40" y="559.30"/>
<use href="#DG" transform="translate(698.60,564.10) scale(-1,1)"/>
<use href="#DG" x="707.20" y="492.80"/>
<line x1="769.70" y1="511.60" x2="780.50" y2="504.50" stroke="#c0c0c0" stroke-width="1.8"/>
<line x1="784.00" y1="534.10" x2="798.10" y2="534.50" stroke="#c0c0c0" stroke-width="1.8"/>
<line x1="821.90" y1="533.90" x2="804.90" y2="534.30" stroke="#c0c0c0" stroke-width="1.8"/>
<line x1="835.50" y1="507.50" x2="822.50" y2="505.50" stroke="#c0c0c0" stroke-width="1.8"/>
<line x1="818.30" y1="559.30" x2="804.90" y2="551.50" stroke="#c0c0c0" stroke-width="1.8"/>
<line x1="791.50" y1="564.10" x2="798.10" y2="554.00" stroke="#c0c0c0" stroke-width="1.8"/>
<line x1="800.10" y1="492.80" x2="786.50" y2="496.00" stroke="#c0c0c0" stroke-width="1.8"/>
<line x1="828.60" y1="485.20" x2="817.50" y2="497.00" stroke="#c0c0c0" stroke-width="1.8"/>
<use href="#AG" x="801.50" y="468.00"/>
<use href="#DG" transform="translate(769.70,511.60) scale(-1,1)"/>
<use href="#DG" transform="translate(784.00,534.10) scale(-1,1)"/>
<use href="#DG" x="821.90" y="533.90"/>
<use href="#DG" x="835.50" y="507.50"/>
<use href="#DG" x="818.30" y="559.30"/>
<use href="#DG" transform="translate(791.50,564.10) scale(-1,1)"/>
<use href="#DG" x="800.10" y="492.80"/>
<use href="#DG" x="828.60" y="485.20"/>
<circle cx="15.6" cy="485.3" r="9" fill="#fff" stroke="#1a1a1a" stroke-width="1.1"/>
<text x="15.6" y="489.5" text-anchor="middle" font-family="'Liberation Sans', Arial, sans-serif" font-weight="bold" font-size="12.9" fill="#1a1a1a" stroke="#1a1a1a" stroke-width="0.45">E</text>
<line x1="48.30" y1="621.10" x2="54.70" y2="627.70" stroke="#ae7486" stroke-width="1.8"/>
<line x1="23.10" y1="647.80" x2="32.50" y2="657.70" stroke="#ae7486" stroke-width="1.8"/>
<line x1="53.30" y1="646.70" x2="63.30" y2="655.70" stroke="#ae7486" stroke-width="1.8"/>
<use href="#eb" transform="translate(51.50,646.20) rotate(30)"/>
<use href="#DR" x="30.60" y="608.60"/>
<use href="#DR" x="32.50" y="657.70"/>
<use href="#DR" x="63.30" y="655.70"/>
<use href="#AG" x="90.60" y="568.70"/>
<line x1="181.10" y1="629.50" x2="168.50" y2="617.90" stroke="#c0c0c0" stroke-width="1.8"/>
<use href="#AG" x="157.50" y="568.70"/>
<use href="#DG" x="181.10" y="629.50"/>
<line x1="217.30" y1="613.70" x2="228.40" y2="605.20" stroke="#c0c0c0" stroke-width="1.8"/>
<line x1="231.90" y1="636.00" x2="246.00" y2="635.20" stroke="#c0c0c0" stroke-width="1.8"/>
<use href="#AG" x="249.40" y="568.70"/>
<use href="#DG" transform="translate(217.30,613.70) scale(-1,1)"/>
<use href="#DG" transform="translate(231.90,636.00) scale(-1,1)"/>
<line x1="308.40" y1="612.30" x2="320.40" y2="605.20" stroke="#c0c0c0" stroke-width="1.8"/>
<line x1="322.70" y1="634.80" x2="338.00" y2="635.20" stroke="#c0c0c0" stroke-width="1.8"/>
<line x1="360.60" y1="634.60" x2="344.80" y2="635.00" stroke="#c0c0c0" stroke-width="1.8"/>
<use href="#AG" x="341.40" y="568.70"/>
<use href="#DG" transform="translate(308.40,612.30) scale(-1,1)"/>
<use href="#DG" transform="translate(322.70,634.80) scale(-1,1)"/>
<use href="#DG" x="360.60" y="634.60"/>
<line x1="400.50" y1="612.30" x2="412.50" y2="605.20" stroke="#c0c0c0" stroke-width="1.8"/>
<line x1="414.80" y1="634.80" x2="430.10" y2="635.20" stroke="#c0c0c0" stroke-width="1.8"/>
<line x1="452.70" y1="634.60" x2="436.90" y2="635.00" stroke="#c0c0c0" stroke-width="1.8"/>
<line x1="466.30" y1="608.20" x2="454.50" y2="606.20" stroke="#c0c0c0" stroke-width="1.8"/>
<use href="#AG" x="433.50" y="568.70"/>
<use href="#DG" transform="translate(400.50,612.30) scale(-1,1)"/>
<use href="#DG" transform="translate(414.80,634.80) scale(-1,1)"/>
<use href="#DG" x="452.70" y="634.60"/>
<use href="#DG" x="466.30" y="608.20"/>
<line x1="493.10" y1="612.30" x2="504.50" y2="605.20" stroke="#c0c0c0" stroke-width="1.8"/>
<line x1="507.40" y1="634.80" x2="522.10" y2="635.20" stroke="#c0c0c0" stroke-width="1.8"/>
<line x1="545.30" y1="634.60" x2="528.90" y2="635.00" stroke="#c0c0c0" stroke-width="1.8"/>
<line x1="558.90" y1="608.20" x2="546.50" y2="606.20" stroke="#c0c0c0" stroke-width="1.8"/>
<line x1="541.70" y1="660.00" x2="528.90" y2="652.20" stroke="#c0c0c0" stroke-width="1.8"/>
<use href="#AG" x="525.50" y="568.70"/>
<use href="#DG" transform="translate(493.10,612.30) scale(-1,1)"/>
<use href="#DG" transform="translate(507.40,634.80) scale(-1,1)"/>
<use href="#DG" x="545.30" y="634.60"/>
<use href="#DG" x="558.90" y="608.20"/>
<use href="#DG" x="541.70" y="660.00"/>
<line x1="584.40" y1="612.30" x2="596.40" y2="605.20" stroke="#c0c0c0" stroke-width="1.8"/>
<line x1="598.70" y1="634.80" x2="614.00" y2="635.20" stroke="#c0c0c0" stroke-width="1.8"/>
<line x1="636.60" y1="634.60" x2="620.80" y2="635.00" stroke="#c0c0c0" stroke-width="1.8"/>
<line x1="650.20" y1="608.20" x2="638.40" y2="606.20" stroke="#c0c0c0" stroke-width="1.8"/>
<line x1="633.00" y1="660.00" x2="620.80" y2="652.20" stroke="#c0c0c0" stroke-width="1.8"/>
<line x1="606.20" y1="664.80" x2="614.00" y2="654.70" stroke="#c0c0c0" stroke-width="1.8"/>
<use href="#AG" x="617.40" y="568.70"/>
<use href="#DG" transform="translate(584.40,612.30) scale(-1,1)"/>
<use href="#DG" transform="translate(598.70,634.80) scale(-1,1)"/>
<use href="#DG" x="636.60" y="634.60"/>
<use href="#DG" x="650.20" y="608.20"/>
<use href="#DG" x="633.00" y="660.00"/>
<use href="#DG" transform="translate(606.20,664.80) scale(-1,1)"/>
<line x1="676.80" y1="612.30" x2="688.50" y2="605.20" stroke="#c0c0c0" stroke-width="1.8"/>
<line x1="691.10" y1="634.80" x2="706.10" y2="635.20" stroke="#c0c0c0" stroke-width="1.8"/>
<line x1="729.00" y1="634.60" x2="712.90" y2="635.00" stroke="#c0c0c0" stroke-width="1.8"/>
<line x1="742.60" y1="608.20" x2="730.50" y2="606.20" stroke="#c0c0c0" stroke-width="1.8"/>
<line x1="725.40" y1="660.00" x2="712.90" y2="652.20" stroke="#c0c0c0" stroke-width="1.8"/>
<line x1="698.60" y1="664.80" x2="706.10" y2="654.70" stroke="#c0c0c0" stroke-width="1.8"/>
<line x1="707.20" y1="593.50" x2="694.50" y2="596.70" stroke="#c0c0c0" stroke-width="1.8"/>
<use href="#AG" x="709.50" y="568.70"/>
<use href="#DG" transform="translate(676.80,612.30) scale(-1,1)"/>
<use href="#DG" transform="translate(691.10,634.80) scale(-1,1)"/>
<use href="#DG" x="729.00" y="634.60"/>
<use href="#DG" x="742.60" y="608.20"/>
<use href="#DG" x="725.40" y="660.00"/>
<use href="#DG" transform="translate(698.60,664.80) scale(-1,1)"/>
<use href="#DG" x="707.20" y="593.50"/>
<line x1="769.70" y1="612.30" x2="780.50" y2="605.20" stroke="#c0c0c0" stroke-width="1.8"/>
<line x1="784.00" y1="634.80" x2="798.10" y2="635.20" stroke="#c0c0c0" stroke-width="1.8"/>
<line x1="821.90" y1="634.60" x2="804.90" y2="635.00" stroke="#c0c0c0" stroke-width="1.8"/>
<line x1="835.50" y1="608.20" x2="822.50" y2="606.20" stroke="#c0c0c0" stroke-width="1.8"/>
<line x1="818.30" y1="660.00" x2="804.90" y2="652.20" stroke="#c0c0c0" stroke-width="1.8"/>
<line x1="791.50" y1="664.80" x2="798.10" y2="654.70" stroke="#c0c0c0" stroke-width="1.8"/>
<line x1="800.10" y1="593.50" x2="786.50" y2="596.70" stroke="#c0c0c0" stroke-width="1.8"/>
<line x1="828.60" y1="585.90" x2="817.50" y2="597.70" stroke="#c0c0c0" stroke-width="1.8"/>
<use href="#AG" x="801.50" y="568.70"/>
<use href="#DG" transform="translate(769.70,612.30) scale(-1,1)"/>
<use href="#DG" transform="translate(784.00,634.80) scale(-1,1)"/>
<use href="#DG" x="821.90" y="634.60"/>
<use href="#DG" x="835.50" y="608.20"/>
<use href="#DG" x="818.30" y="660.00"/>
<use href="#DG" transform="translate(791.50,664.80) scale(-1,1)"/>
<use href="#DG" x="800.10" y="593.50"/>
<use href="#DG" x="828.60" y="585.90"/>
<circle cx="15.6" cy="584.3" r="9" fill="#fff" stroke="#1a1a1a" stroke-width="1.1"/>
<text x="15.6" y="588.5" text-anchor="middle" font-family="'Liberation Sans', Arial, sans-serif" font-weight="bold" font-size="12.9" fill="#1a1a1a" stroke="#1a1a1a" stroke-width="0.45">F</text>
<text x="2" y="676.9" font-family="'Liberation Sans', Arial, sans-serif" font-size="10" fill="#231f20"><tspan font-style="italic">Bioanalysis</tspan> © Future Science Group (2013)</text>
</svg>
</body></html>
